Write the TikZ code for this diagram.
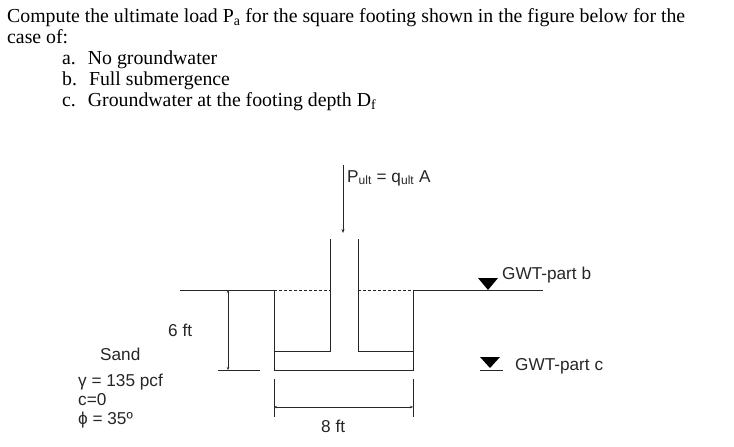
\documentclass[tikz,border=0pt]{standalone}
\usepackage{fontspec}
\setmainfont{Liberation Serif}
\newfontfamily\arialf{Liberation Sans}
\usetikzlibrary{arrows.meta}
\begin{document}
\begin{tikzpicture}[x=1pt,y=-1pt,
  ln/.style={line width=0.8pt,black!85},
  hd/.style={anchor=base west,inner sep=0pt,font=\fontsize{19.8}{22}\selectfont},
  lb/.style={anchor=base west,inner sep=0pt,font=\arialf\fontsize{17.2}{20}\selectfont,text=black!85},
  dim/.style={ln,{Stealth[length=3pt,width=2.5pt]}-{Stealth[length=3pt,width=2.5pt]}}]
\useasboundingbox (0,0) rectangle (734,447);
% header text
\node[hd] (t1) at (7,22) {Compute the ultimate load P\textsubscript{a} for the square footing shown in the figure below for the};
\node[hd] (t2) at (7,43) {case of:};
\node[hd] (ta) at (62,64) {a.\hspace{12pt}No groundwater};
\node[hd] (tb) at (62,85) {b.\hspace{12pt}Full submergence};
\node[hd] (tc) at (62,106) {c.\hspace{12pt}Groundwater at the footing depth D\textsubscript{f}};
% coordinates
\coordinate (gl0) at (180,290); \coordinate (gl1) at (274,290);
\coordinate (gr0) at (413,290); \coordinate (gr1) at (543,290);
\coordinate (wl) at (274,370); \coordinate (wr) at (413,370);
\coordinate (cl) at (330,239); \coordinate (cr) at (358,239);
% ground + excavation
\draw[ln] (gl0) -- (gl1);
\draw[ln] (gr0) -- (gr1);
\draw[ln] (gl1) -- (wl) -- (wr) -- (gr0);
\draw[ln] (274,351) -- (330,351) -- (cl);
\draw[ln] (413,351) -- (358,351) -- (cr);
\draw[ln,dashed,dash pattern=on 3pt off 2pt] (gl1) -- (330,290);
\draw[ln,dashed,dash pattern=on 3pt off 2pt] (358,290) -- (gr0);
% load
\coordinate (p0) at (343,165); \coordinate (p1) at (343,233);
\draw[ln,-{Stealth[length=4pt,width=3pt]}] (p0) -- (p1);
\node[lb] (pl) at (347,182) {P\textsubscript{ult} = q\textsubscript{ult} A};
% 6 ft dim
\draw[ln] (218,370) -- (260,370);
\coordinate (d6a) at (228,290); \coordinate (d6b) at (228,370);
\draw[dim] (d6a) -- (d6b);
\node[lb] (l6) at (168,336) {6 ft};
% 8 ft dim
\draw[ln] (274,379) -- (274,417);
\draw[ln] (413,379) -- (413,417);
\coordinate (d8a) at (274,407); \coordinate (d8b) at (413,407);
\draw[dim] (d8a) -- (d8b);
\node[lb] (l8) at (321,432) {8 ft};
% GWT b
\fill[black] (478,278) -- (498,278) -- (488,290) -- cycle;
\node[lb] (gb) at (502,279) {GWT-part\ b};
% GWT c
\fill[black] (480,357) -- (500,357) -- (490,368) -- cycle;
\draw[ln] (480,370) -- (503,370);
\node[lb] (gc) at (515,370) {GWT-part\ c};
% soil properties
\node[lb] (s1) at (100,360) {Sand};
\node[lb] (s2) at (78,386) {γ = 135 pcf};
\node[lb] (s3) at (78,405) {c=0};
\node[lb] (s4) at (78,424) {ϕ = 35º};
\end{tikzpicture}
\end{document}
